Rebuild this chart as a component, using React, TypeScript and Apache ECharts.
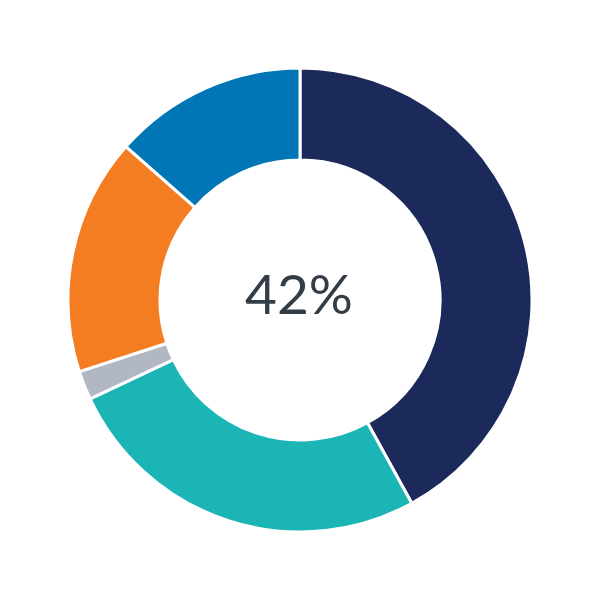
import React, { useEffect, useRef } from 'react';
import * as echarts from 'echarts';

const LABELS = ['Segment A', 'Segment B', 'Segment C', 'Segment D', 'Segment E'];
const VALUES = [42, 26, 2, 16.5, 13.5];
const PALETTE = ['#1b2a5a', '#1bb5b6', '#b1b7c3', '#f37d20', '#0076b6'];
const CENTER_TEXT = '42%';

const App: React.FC = () => {
  const divEL = useRef<HTMLDivElement>(null);

  useEffect(() => {
    document.body.style.margin = '0';
    const instance = echarts.init(divEL.current as any, null, { renderer: 'svg' });

    const option: echarts.EChartsOption = {
      animation: false,
      color: PALETTE,
      graphic: [
        {
          type: 'text',
          x: 299,
          y: 293,
          style: {
            text: CENTER_TEXT,
            fontSize: 55,
            fontFamily: 'Lato',
            fontWeight: 400,
            fill: '#333d47',
            align: 'center',
            verticalAlign: 'middle',
          },
        },
      ],
      series: [
        {
          type: 'pie',
          center: [300, 300],
          radius: [140, 232],
          startAngle: 90,
          clockwise: true,
          label: { show: false },
          labelLine: { show: false },
          itemStyle: {
            borderColor: '#ffffff',
            borderWidth: 3,
          },
          emphasis: { disabled: true },
          data: LABELS.map((name, i) => ({ name, value: VALUES[i] })),
        },
      ],
    };
    instance.setOption(option);

    return () => {
      instance.dispose();
    };
  }, []);

  return <div ref={divEL} style={{ width: 600, height: 600 }}></div>;
};

export default App;
